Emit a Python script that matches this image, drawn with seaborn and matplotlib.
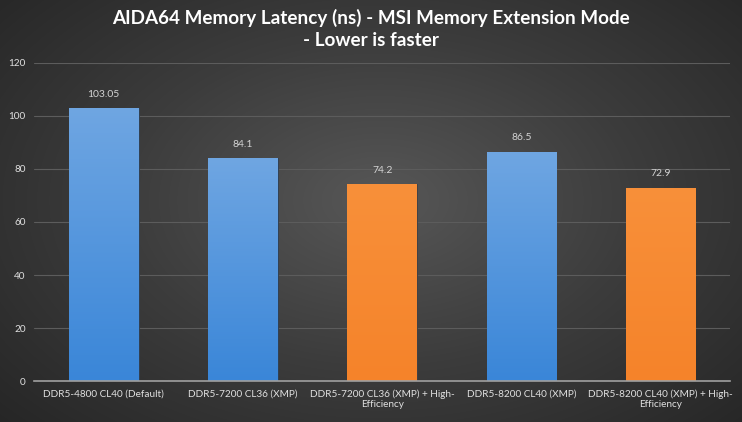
import numpy as np
import matplotlib
matplotlib.use("Agg")
import matplotlib.pyplot as plt
from matplotlib.colors import LinearSegmentedColormap
import seaborn as sns
import pandas as pd

categories = [
    "DDR5-4800 CL40 (Default)",
    "DDR5-7200 CL36 (XMP)",
    "DDR5-7200 CL36 (XMP) + High-\nEfficiency",
    "DDR5-8200 CL40 (XMP)",
    "DDR5-8200 CL40 (XMP) + High-\nEfficiency",
]
latency = [103.05, 84.1, 74.2, 86.5, 72.9]
labels = ["103.05", "84.1", "74.2", "86.5", "72.9"]
mode = ["std", "std", "hi", "std", "hi"]

df = pd.DataFrame({"config": categories, "latency": latency, "mode": mode})

sns.set_theme(style="dark")
plt.rcParams["font.family"] = ["Lato", "DejaVu Sans"]

fig = plt.figure(figsize=(7.42, 4.22), dpi=100)

# radial dark gradient background
bg = fig.add_axes([0, 0, 1, 1], zorder=-10)
yy, xx = np.mgrid[0:422, 0:742]
r = np.sqrt(((xx - 380) / 520.0) ** 2 + ((yy - 200) / 330.0) ** 2)
bg_cmap = LinearSegmentedColormap.from_list("bg", ["#575757", "#3c3c3c", "#262626"])
bg.imshow(np.clip(r, 0, 1), cmap=bg_cmap, aspect="auto", vmin=0, vmax=1)
bg.set_axis_off()

ax = fig.add_axes([0.046, 0.097, 0.938, 0.754])
ax.patch.set_alpha(0)

sns.barplot(data=df, x="config", y="latency", hue="mode",
            palette={"std": "#4a90dc", "hi": "#f5862a"}, saturation=1,
            dodge=False, width=0.5, legend=False, ax=ax,
            edgecolor="#2f3a48", linewidth=0.6)

# vertical gradient fill on the bars (pick the colour by category position)
grad = {
    "std": LinearSegmentedColormap.from_list("gb", ["#3a86d8", "#6fa6e2"]),
    "hi": LinearSegmentedColormap.from_list("go", ["#f5832a", "#f8903a"]),
}
for bar in list(ax.patches):
    x0, y0 = bar.get_x(), bar.get_y()
    w, h = bar.get_width(), bar.get_height()
    if h <= 0:
        continue
    idx = int(round(x0 + w / 2))
    g = np.linspace(0, 1, 256).reshape(-1, 1)
    im = ax.imshow(g, cmap=grad[mode[idx]],
                   extent=[x0, x0 + w, y0, y0 + h], origin="lower",
                   aspect="auto", zorder=bar.get_zorder() + 0.1)
    im.set_clip_path(bar)

for i, (v, lab) in enumerate(zip(latency, labels)):
    ax.text(i, v + 3.5, lab, ha="center", va="bottom",
            color="#d4d4d4", fontsize=7.5)

ax.set_xlim(-0.5, 4.5)
ax.set_ylim(0, 120)
ax.set_yticks(range(0, 121, 20))
ax.yaxis.grid(True, color="#5c5c5c", linewidth=0.8)
ax.xaxis.grid(False)
ax.set_axisbelow(True)
for s in ["top", "right", "left"]:
    ax.spines[s].set_visible(False)
ax.spines["bottom"].set_color("#a0a0a0")
ax.spines["bottom"].set_linewidth(1.2)
ax.tick_params(axis="both", colors="#e0e0e0", labelsize=7.2, length=0, pad=6)
ax.set_xlabel("")
ax.set_ylabel("")

fig.text(0.5, 0.978, "AIDA64 Memory Latency (ns) - MSI Memory Extension Mode\n- Lower is faster",
         ha="center", va="top", color="white", fontsize=13.6, fontweight="bold",
         linespacing=1.3)

fig.savefig("out.png", dpi=100)
